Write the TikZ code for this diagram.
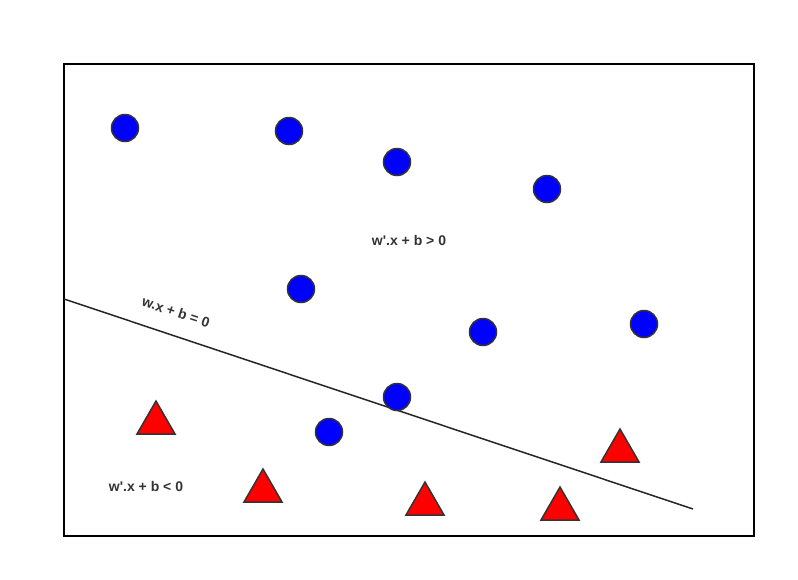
\documentclass[tikz,border=0pt]{standalone}
\usepackage{fontspec}
\setmainfont{Liberation Sans}
\begin{document}
\begin{tikzpicture}[x=1pt,y=-1pt,
  dot/.style={circle,draw=black!80,line width=1.5pt,fill=blue,minimum size=27pt,inner sep=0pt},
  tri/.style={draw=black!80,line width=1.5pt,fill=red},
  lbl/.style={font=\fontsize{14}{16}\selectfont\bfseries,text=black!80}]
\useasboundingbox (0,0) rectangle (798,579);
\draw[line width=1.3pt] (64,64) rectangle (754,536);
\coordinate (l1) at (64,299);
\coordinate (l2) at (693,509);
\draw[line width=1.5pt,black!85] (l1) -- (l2);
\node[lbl,rotate=-18.5] (eq) at (176,312) {w.x + b = 0};
\node[lbl] (pos) at (409,240) {w\textquotesingle.x + b > 0};
\node[lbl] (neg) at (146,486) {w\textquotesingle.x + b < 0};
\foreach \n/\x/\y in {c1/125/128,c2/289/131,c3/397/162,c4/547/189,c5/301/289,c6/483/332,c7/644/324,c8/397/397,c9/329/432}
  \node[dot] (\n) at (\x,\y) {};
\foreach \x/\y in {156/418,263/486,425/499,560/504,620/446}
  \draw[tri] (\x-19,\y+16) -- (\x,\y-17) -- (\x+19,\y+16) -- cycle;
\end{tikzpicture}
\end{document}
